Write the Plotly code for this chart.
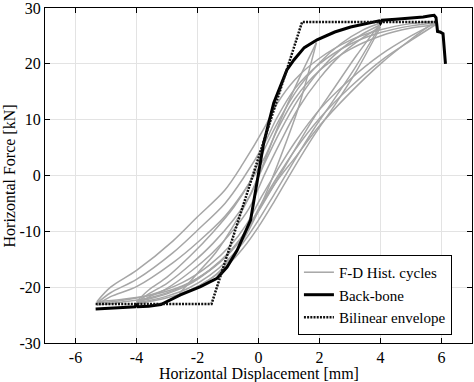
import plotly.graph_objects as go

# ---------------- data ----------------
# Large cycles: negative peak ~ -5.3 mm, positive peak ~ 5.8 mm
big_up_d = [-5.3, -4.85, -4.0, -2.8, -2.0, -1.1, -0.5, 0.2, 0.6, 1.2, 2.0, 3.0, 4.0, 5.0, 5.8]
big_up_f1 = [-22.6, -20.0, -17.0, -11.7, -7.4, -2.6, 2.2, 8.6, 12.8, 17.2, 21.0, 24.2, 26.1, 27.2, 27.6]
big_up_f2 = [-22.9, -21.0, -18.6, -13.8, -9.8, -5.0, -0.5, 5.8, 10.3, 15.6, 20.0, 23.5, 25.6, 26.8, 27.3]
big_up_f3 = [-23.2, -21.7, -19.9, -15.6, -12.0, -7.3, -3.0, 3.2, 8.0, 13.8, 18.8, 22.6, 25.0, 26.4, 27.0]

big_lo_d = [-5.3, -4.5, -3.5, -2.5, -1.6, -0.9, -0.4, 0.1, 0.6, 1.2, 2.0, 3.0, 4.0, 5.0, 5.8]
big_lo_f1 = [-22.6, -22.2, -21.4, -19.8, -17.0, -13.6, -10.2, -5.3, -1.0, 3.2, 8.9, 14.8, 20.0, 24.4, 27.6]
big_lo_f2 = [-22.9, -22.4, -21.3, -19.2, -16.0, -12.4, -8.8, -3.8, 0.8, 6.0, 11.8, 17.2, 21.6, 25.0, 27.3]
big_lo_f3 = [-23.2, -22.7, -21.8, -19.9, -16.9, -13.4, -9.9, -5.0, -0.4, 4.6, 10.2, 15.8, 20.5, 24.2, 27.0]

# Medium cycles: negative peak ~ -4.0 mm, positive peak ~ 4.0 mm
mid_up_d = [-4.0, -3.6, -3.0, -2.2, -1.5, -0.8, -0.3, 0.2, 0.7, 1.3, 2.0, 2.7, 3.4, 4.0]
mid_up_f1 = [-22.6, -20.5, -18.2, -14.2, -10.2, -5.6, -1.3, 4.8, 10.2, 15.6, 20.2, 23.6, 26.0, 27.3]
mid_up_f2 = [-22.8, -21.2, -19.3, -15.8, -12.2, -7.8, -3.8, 2.2, 7.8, 13.6, 18.8, 22.6, 25.3, 27.0]
mid_up_f3 = [-23.0, -21.8, -20.2, -17.1, -13.8, -9.6, -5.8, 0.2, 5.8, 12.0, 17.4, 21.6, 24.6, 26.6]

mid_lo_d = [-4.0, -3.5, -3.0, -2.3, -1.6, -1.0, -0.5, 0.0, 0.5, 1.1, 1.8, 2.5, 3.2, 4.0]
mid_lo_f1 = [-22.6, -22.0, -21.2, -19.6, -17.0, -14.0, -10.6, -6.4, -1.8, 3.8, 10.2, 15.8, 21.4, 27.3]
mid_lo_f2 = [-22.8, -22.3, -21.6, -20.2, -17.9, -15.1, -12.0, -8.0, -3.5, 2.0, 8.2, 13.8, 19.6, 27.0]
mid_lo_f3 = [-23.0, -22.5, -21.9, -20.7, -18.6, -16.0, -13.0, -9.2, -4.8, 0.8, 7.0, 12.6, 18.6, 26.6]

# Small cycle: peaks ~ -2.6 mm / 1.9 mm (close to the back-bone)
small_d = [-2.6, -2.0, -1.4, -0.8, -0.3, 0.2, 0.7, 1.3, 1.9]
small_up_f = [-21.2, -17.5, -13.8, -8.8, -3.8, 2.6, 9.6, 17.0, 23.8]
small_lo_f = [-21.2, -19.9, -17.8, -14.0, -9.6, -3.8, 3.0, 12.0, 23.8]

# Back-bone curve
backbone_d = [-5.34, -4.8, -4.3, -4.05, -4.0, -3.95, -3.6, -3.2, -2.56, -1.9, -1.36, -1.03,
              -0.7, -0.26, -0.05, 0.17, 0.5, 0.93, 1.16, 1.5, 1.92, 2.5, 3.02, 3.6, 3.95,
              4.0, 4.05, 4.5, 5.0, 5.4, 5.64, 5.76, 5.82, 5.87, 5.95, 6.05, 6.13]
backbone_f = [-23.9, -23.8, -23.6, -23.5, -23.0, -23.5, -23.4, -23.1, -21.4, -19.9, -18.4, -16.4,
              -13.4, -8.0, -1.4, 5.8, 13.0, 18.9, 20.7, 22.9, 24.3, 25.7, 26.6, 27.3, 27.7,
              27.3, 27.8, 28.0, 28.2, 28.4, 28.6, 28.7, 28.3, 25.8, 25.7, 25.4, 20.0]

# Bilinear envelope
bilinear_d = [-5.34, -1.54, 1.43, 5.8]
bilinear_f = [-23.0, -23.0, 27.5, 27.5]

x_ticks = [-6, -4, -2, 0, 2, 4, 6]
y_ticks = [-30, -20, -10, 0, 10, 20, 30]

x_title = "Horizontal Displacement [mm]"
y_title = "Horizontal Force [kN]"

# ---------------- build figure ----------------
branches = [
    (big_up_d, big_up_f1), (big_lo_d, big_lo_f1),
    (big_up_d, big_up_f2), (big_lo_d, big_lo_f2),
    (big_up_d, big_up_f3), (big_lo_d, big_lo_f3),
    (mid_up_d, mid_up_f1), (mid_lo_d, mid_lo_f1),
    (mid_up_d, mid_up_f2), (mid_lo_d, mid_lo_f2),
    (mid_up_d, mid_up_f3), (mid_lo_d, mid_lo_f3),
    (small_d, small_up_f), (small_d, small_lo_f),
]
gx, gy = [], []
for d, f in branches:
    gx += list(d) + [None]
    gy += list(f) + [None]

FONT = "Times New Roman, Liberation Serif, DejaVu Serif, serif"
FS = 16

fig = go.Figure()
fig.add_trace(go.Scatter(
    x=gx, y=gy, mode="lines", name="F-D Hist. cycles",
    line=dict(color="#a6a6a6", width=1.5, shape="spline", smoothing=0.9),
    connectgaps=False,
))
fig.add_trace(go.Scatter(
    x=backbone_d, y=backbone_f, mode="lines", name="Back-bone",
    line=dict(color="black", width=3),
))
fig.add_trace(go.Scatter(
    x=bilinear_d, y=bilinear_f, mode="lines", name="Bilinear envelope",
    line=dict(color="#111111", width=2.5, dash="2px,1.2px"),
))

axis_common = dict(
    showline=True, linecolor="black", linewidth=1, mirror="ticks",
    ticks="inside", ticklen=5, tickcolor="black",
    showgrid=True, gridcolor="#e3e3e3", gridwidth=1,
    zeroline=False, automargin=False, ticklabeloverflow="allow",
    tickfont=dict(family=FONT, size=FS, color="black"),
)

fig.update_layout(
    width=474, height=382,
    margin=dict(l=45, r=2, t=8, b=39),
    plot_bgcolor="white", paper_bgcolor="white",
    font=dict(family=FONT, size=FS, color="black"),
    showlegend=True,
    legend=dict(
        x=0.953, y=0.024, xanchor="right", yanchor="bottom",
        bgcolor="white", bordercolor="black", borderwidth=1,
        font=dict(family=FONT, size=15, color="black"),
        tracegroupgap=0,
    ),
    xaxis=dict(range=[-7, 7], tickvals=x_ticks, ticktext=[str(v) for v in x_ticks], **axis_common),
    yaxis=dict(range=[-30, 30], tickvals=y_ticks, ticktext=[str(v) for v in y_ticks], **axis_common),
    annotations=[
        dict(text=x_title, xref="paper", yref="paper", x=0.5, y=-0.093,
             xanchor="center", yanchor="middle", showarrow=False,
             font=dict(family=FONT, size=FS, color="black")),
        dict(text=y_title, xref="paper", yref="paper", x=-0.082, y=0.5,
             xanchor="center", yanchor="middle", showarrow=False, textangle=-90,
             font=dict(family=FONT, size=FS, color="black")),
    ],
)

fig.write_html(
    "out.html",
    config={"displayModeBar": False},
    post_script="document.body.style.margin='0';document.body.style.padding='0';",
)
